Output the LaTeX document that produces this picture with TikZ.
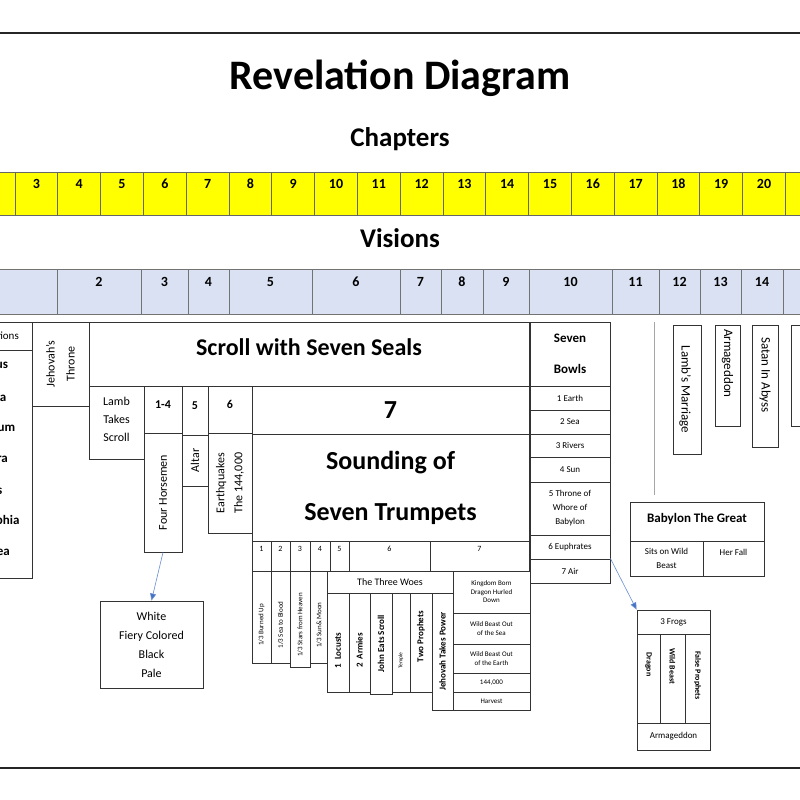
\documentclass[tikz,border=0pt]{standalone}
\usepackage{fontspec}
\setmainfont{Carlito}
\usetikzlibrary{arrows.meta}
\definecolor{chy}{HTML}{FFFF00}
\definecolor{visb}{HTML}{D9E1F2}
\definecolor{arr}{HTML}{4472C4}
\tikzset{
  bxs/.style={draw=black!80,line width=0.9pt,inner sep=0pt,fill=white},
  lbl/.style={align=center,inner sep=0pt},
  b12/.style={lbl,font=\fontsize{12}{16}\selectfont\bfseries},
  b13/.style={lbl,font=\fontsize{13}{18}\selectfont\bfseries},
  n9/.style={lbl,font=\fontsize{9}{11}\selectfont},
  n7/.style={lbl,font=\fontsize{7}{8.5}\selectfont},
  b8/.style={lbl,font=\fontsize{8}{10}\selectfont\bfseries},
  conn/.style={draw=arr!80,line width=0.6pt,-{Triangle[length=7pt,width=6pt,fill=arr]}}
}
\newcommand\bx[7][]{%
  \pgfmathsetmacro\bw{#4-#2}\pgfmathsetmacro\bh{#5-#3}%
  \node[bxs,minimum width=\bw pt,minimum height=\bh pt] (#6) at ({(#2+#4)/2},{(#3+#5)/2}) {};
  \node[lbl,#1] at (#6.center) {#7};}
\begin{document}
\begin{tikzpicture}[x=1pt,y=-1pt]
\useasboundingbox (0,0) rectangle (800,800);
\fill[white] (0,0) rectangle (800,800);
\begin{scope}
\clip (0,0) rectangle (800,800);
\draw[line width=2pt,black!85] (0,33) -- (800,33);
\draw[line width=2pt,black!85] (0,768) -- (800,768);
\node[lbl,font=\fontsize{42}{46}\selectfont\bfseries] (title) at (400,78) {Revelation Diagram};
\node[lbl,font=\fontsize{27}{30}\selectfont\bfseries] (chap) at (400,139) {Chapters};
\node[lbl,font=\fontsize{27}{30}\selectfont\bfseries] (vis) at (400,238) {Visions};
% chapters
\foreach \n in {2,...,22}{
  \pgfmathsetmacro\xa{15+(\n-3)*42.8}
  \draw[fill=chy,draw=black!60,line width=0.8pt] (\xa,172) rectangle ({\xa+42.8},215);
  \ifnum\n>2 \node[lbl,font=\fontsize{14}{16}\selectfont\bfseries] (ch\n) at ({\xa+21.4},184) {\n};\fi
}
% visions
\foreach \a/\b/\t in {-40/57/1,57/141/2,141/188/3,188/229/4,229/312/5,312/400/6,400/441/7,441/483/8,483/529/9,529/612/10,612/659/11,659/700/12,700/741/13,741/783/14,783/830/15}{
  \draw[fill=visb,draw=black!55,line width=0.8pt] (\a,269) rectangle (\b,314);
  \ifnum\t>1 \node[lbl,font=\fontsize{14}{16}\selectfont\bfseries] (v\t) at ({(\a+\b)/2},282) {\t};\fi
}
% left column (congregations)
\bx{-80}{322}{32}{350}{cong}{}
\node[lbl,anchor=east,font=\fontsize{11}{14}\selectfont] (congt) at (19,337) {Seven Congregations};
\bx{-80}{350}{32}{578}{congl}{}
\foreach \y/\t in {365/Ephesus,398/Smyrna,428/Pergamum,459/Thyatira,490/Sardis,521/Philadelphia,551/Laodicea}
  \node[lbl,font=\fontsize{13}{16}\selectfont\bfseries] at (-14,\y) {\t};
% throne
\bx[b12,rotate=90,font=\fontsize{12}{20}\selectfont]{32}{322}{89}{406}{thr}{Jehovah's\\Throne}
\bx[font=\fontsize{24}{28}\selectfont\bfseries,yshift=7pt]{89}{322}{529}{386}{scroll}{Scroll with Seven Seals}
\bx[b12,font=\fontsize{12}{18}\selectfont,yshift=3pt]{89}{386}{144}{459}{lamb}{Lamb\\Takes\\Scroll}
\bx[b12]{144}{386}{182}{433}{s14}{\raisebox{10pt}{1-4}}
\bx[b12,rotate=90,font=\fontsize{12}{16}\selectfont]{144}{433}{182}{552}{horse}{Four Horsemen}
\bx[b12]{182}{386}{208}{435}{s5}{\raisebox{10pt}{5}}
\bx[b12,rotate=90,font=\fontsize{12}{16}\selectfont]{182}{435}{208}{486}{altar}{Altar}
\bx[b12]{208}{386}{252}{433}{s6}{\raisebox{10pt}{6}}
\bx[b12,rotate=90,font=\fontsize{12}{18}\selectfont]{208}{433}{252}{533}{earth}{Earthquakes\\The 144,000}
\bx[font=\fontsize{26}{30}\selectfont\bfseries]{252}{386}{529}{434}{s7}{7}
\bx[font=\fontsize{26}{51}\selectfont\bfseries]{252}{434}{529}{541}{sound}{Sounding of\\Seven Trumpets}
% trumpets row
\foreach \a/\b/\t in {252/271/1,271/290/2,290/310/3,310/330/4,330/349/5,349/430/6,430/529/7}{
  \bx[n9,font=\fontsize{8}{10}\selectfont,yshift=7pt]{\a}{541}{\b}{571}{t\t}{\t}
}
\bx[n7,rotate=90,xshift=-8pt]{252}{571}{271}{663}{tr1}{1/3 Burned Up}
\bx[n7,rotate=90,xshift=-8pt]{271}{571}{290}{663}{tr2}{1/3 Sea to Blood}
\bx[n7,rotate=90,xshift=-6pt]{290}{571}{310}{667}{tr3}{1/3 Stars from Heaven}
\bx[n7,rotate=90,xshift=-8pt]{310}{571}{328}{663}{tr4}{1/3 Sun\& Moon}
\bx[n9,font=\fontsize{10}{12}\selectfont]{327}{571}{453}{593}{woes}{The Three Woes}
\bx[b8,font=\fontsize{9}{11}\selectfont\bfseries,rotate=90,xshift=-8pt]{327}{593}{349}{692}{w1}{1\ \ Locusts}
\bx[b8,font=\fontsize{9}{11}\selectfont\bfseries,rotate=90,xshift=-8pt]{349}{593}{370}{692}{w2}{2\ \ Armies}
\bx[b8,font=\fontsize{9}{11}\selectfont\bfseries,rotate=90]{370}{593}{392}{694}{w3}{John Eats Scroll}
\bx[n7,font=\fontsize{5.5}{7}\selectfont,rotate=90,xshift=-18pt]{392}{593}{410}{692}{w4}{Temple}
\bx[b8,font=\fontsize{9}{11}\selectfont\bfseries,rotate=90,xshift=6pt]{410}{593}{432}{692}{w5}{Two Prophets}
\bx[b8,font=\fontsize{9}{11}\selectfont\bfseries,rotate=90]{432}{593}{453}{710}{w6}{Jehovah Takes Power}
\bx[n7]{453}{571}{530}{613}{k1}{Kingdom Born\\Dragon Hurled\\Down}
\bx[n7]{453}{613}{530}{644}{k2}{Wild Beast Out\\of the Sea}
\bx[n7]{453}{644}{530}{673}{k3}{Wild Beast Out\\of the Earth}
\bx[n7]{453}{673}{530}{692}{k4}{144,000}
\bx[n7]{453}{692}{530}{710}{k5}{Harvest}
% bowls
\bx[b12,font=\fontsize{13}{31}\selectfont\bfseries]{530}{322}{610}{386}{bowls}{Seven\\Bowls}
\bx[n9]{530}{386}{610}{410}{bw1}{1 Earth}
\bx[n9]{530}{410}{610}{434}{bw2}{2 Sea}
\bx[n9]{530}{434}{610}{457}{bw3}{3 Rivers}
\bx[n9]{530}{457}{610}{482}{bw4}{4 Sun}
\bx[n9,font=\fontsize{9}{14}\selectfont]{530}{482}{610}{535}{bw5}{5 Throne of\\Whore of\\Babylon}
\bx[n9]{530}{535}{610}{559}{bw6}{6 Euphrates}
\bx[n9]{530}{559}{610}{583}{bw7}{7 Air}
% right side
\draw[black!35,line width=1pt] (654,322) -- (654,495);
\bx[b12,font=\fontsize{13}{16}\selectfont,rotate=-90,yshift=-2pt]{673}{325}{701}{454}{lm}{Lamb’s Marriage}
\bx[b12,font=\fontsize{13}{16}\selectfont,rotate=-90,xshift=-12pt]{715}{325}{740}{426}{arm}{Armageddon}
\bx[b12,font=\fontsize{13}{16}\selectfont,rotate=-90,xshift=-11pt]{752}{325}{778}{447}{sat}{Satan In Abyss}
\bx{791}{325}{830}{426}{part}{}
\bx[b12,font=\fontsize{13}{15}\selectfont\bfseries,yshift=3pt]{630}{502}{764}{541}{bab}{Babylon The Great}
\bx[n9,font=\fontsize{9}{14}\selectfont]{630}{541}{703}{576}{sits}{Sits on Wild\\Beast}
\bx[n9,yshift=6pt]{703}{541}{764}{576}{fall}{Her Fall}
\bx[b12,font=\fontsize{12}{19}\selectfont]{100}{601}{203}{688}{white}{White\\Fiery Colored\\Black\\Pale}
\bx[n9]{637}{610}{710}{634}{frogs}{3 Frogs}
\bx[b8,rotate=-90,xshift=-14pt]{637}{634}{660}{723}{dragon}{Dragon}
\bx[b8,rotate=-90,xshift=-12pt]{660}{634}{685}{723}{wb}{Wild Beast}
\bx[b8,rotate=-90,xshift=-3pt]{685}{634}{710}{723}{fp}{False Prophets}
\bx[n9]{637}{723}{710}{750}{armf}{Armageddon}
% connectors
\draw[conn] (horse.south) -- (white.north);
\draw[conn] (bw7.north east) -- (frogs.north west);
\end{scope}
\end{tikzpicture}
\end{document}
